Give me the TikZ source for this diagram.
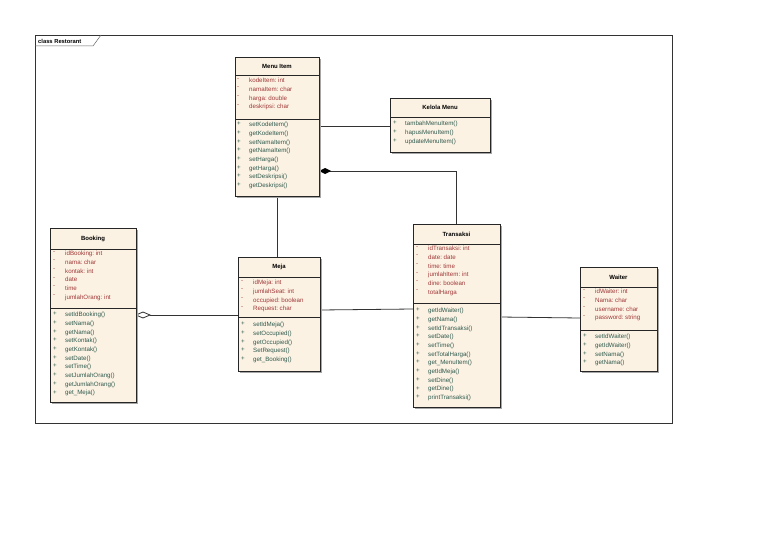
\documentclass[tikz,border=0pt]{standalone}
\usepackage{fontspec}
\setmainfont{Liberation Sans}
\usetikzlibrary{shadows}
\definecolor{boxfill}{HTML}{FCF2E3}
\definecolor{attrc}{HTML}{A03838}
\definecolor{methc}{HTML}{2E5A4E}
\tikzset{
 box/.style={draw=black!85,line width=0.9pt,fill=boxfill,drop shadow={shadow xshift=2pt,shadow yshift=-2pt,fill=black!35,opacity=1}},
 sep/.style={draw=black!85,line width=0.7pt},
 ttl/.style={font=\fontsize{6}{7}\selectfont\bfseries,inner sep=0pt},
 lst/.style={font=\fontsize{6.2}{8.7}\selectfont,align=left,anchor=north west,inner sep=0pt},
 conn/.style={draw=black!80,line width=0.8pt},
}
\newcommand\umlcls[8]{%
 \path[box] (#2,#3) rectangle (#4,#5);
 \coordinate (#1-nw) at (#2,#3); \coordinate (#1-se) at (#4,#5);
 \draw[sep] (#2,#6) -- (#4,#6); \draw[sep] (#2,#7) -- (#4,#7);
 \node[ttl] (#1-t) at ({(#2+#4)/2},{(#3+#6)/2}) {#8};}
\begin{document}
\begin{tikzpicture}[x=1pt,y=-1pt]
\useasboundingbox (0,0) rectangle (768,543);
\fill[white] (0,0) rectangle (768,543);
% frame
\draw[black!80,line width=0.8pt] (35,35) rectangle (672,423);
\draw[black!60,line width=0.5pt] (35,46) -- (93,46) -- (101,35);
\node[font=\fontsize{5.8}{7}\selectfont\bfseries,anchor=west,inner sep=0pt] (frm) at (38,41) {class Restorant};
% connectors
\coordinate (c1) at (456,171);
\draw[conn] (319,126) -- (390,126);
\draw[conn] (456,224) -- (c1) -- (319,171);
\fill[black] (319,171) -- (325,168) -- (331,171) -- (325,174) -- cycle;
\draw[conn] (277,196) -- (277,257);
\draw[conn] (150,315) -- (238,315);
\draw[conn,fill=white] (136,315) -- (143,312) -- (150,315) -- (143,318) -- cycle;
\draw[conn] (320,310) -- (413,309);
\draw[conn] (500,317) -- (580,318);
% Menu Item
\umlcls{mi}{235}{57}{319}{196}{75}{119}{Menu Item}
\node[lst,text=attrc] (mia) at (237,78) {-\\-\\-\\-};
\node[lst,text=attrc] (mia2) at (249,78) {kodeItem:\ int\\namaItem:\ char\\harga:\ double\\deskripsi:\ char};
\node[lst,text=methc] (mim) at (237,122) {+\\+\\+\\+\\+\\+\\+\\+};
\node[lst,text=methc] (mim2) at (249,122) {setKodeItem()\\getKodeItem()\\setNamaItem()\\getNamaItem()\\setHarga()\\getHarga()\\setDeskripsi()\\getDeskripsi()};
% Kelola Menu
\umlcls{km}{390}{98}{490}{152}{117}{117}{Kelola Menu}
\node[lst,text=methc] (kmm) at (393,121) {+\\+\\+};
\node[lst,text=methc] (kmm2) at (405,121) {tambahMenuItem()\\hapusMenuItem()\\updateMenuItem()};
% Booking
\umlcls{bk}{50}{228}{136}{402}{249}{308}{Booking}
\node[lst,text=attrc] (bka) at (53,251) {-\\-\\-\\-\\-\\-};
\node[lst,text=attrc] (bka2) at (65,251) {idBooking:\ int\\nama:\ char\\kontak:\ int\\date\\time\\jumlahOrang:\ int};
\node[lst,text=methc] (bkm) at (53,312) {+\\+\\+\\+\\+\\+\\+\\+\\+\\+};
\node[lst,text=methc] (bkm2) at (65,312) {setIdBooking()\\setNama()\\getNama()\\setKontak()\\getKontak()\\setDate()\\setTime()\\setJumlahOrang()\\getJumlahOrang()\\get\_Meja()};
% Meja
\umlcls{mj}{238}{257}{320}{371}{277}{317}{Meja}
\node[lst,text=attrc] (mja) at (241,280) {-\\-\\-\\-};
\node[lst,text=attrc] (mja2) at (253,280) {idMeja:\ int\\jumlahSeat:\ int\\occupied:\ boolean\\Request:\ char};
\node[lst,text=methc] (mjm) at (241,322) {+\\+\\+\\+\\+};
\node[lst,text=methc] (mjm2) at (253,322) {setIdMeja()\\setOccupied()\\getOccupied()\\SetRequest()\\get\_Booking()};
% Transaksi
\umlcls{tr}{413}{224}{500}{407}{244}{303}{Transaksi}
\node[lst,text=attrc] (tra) at (416,246) {-\\-\\-\\-\\-\\-};
\node[lst,text=attrc] (tra2) at (428,246) {idTransaksi:\ int\\date:\ date\\time:\ time\\jumlahItem:\ int\\dine:\ boolean\\totalHarga};
\node[lst,text=methc] (trm) at (416,308) {+\\+\\+\\+\\+\\+\\+\\+\\+\\+\\+};
\node[lst,text=methc] (trm2) at (428,308) {getIdWaiter()\\getNama()\\setIdTransaksi()\\setDate()\\setTime()\\setTotalHarga()\\get\_MenuItem()\\getIdMeja()\\setDine()\\getDine()\\printTransaksi()};
% Waiter
\umlcls{wt}{580}{267}{657}{371}{287}{330}{Waiter}
\node[lst,text=attrc] (wta) at (583,289) {-\\-\\-\\-};
\node[lst,text=attrc] (wta2) at (595,289) {idWaiter:\ int\\Nama:\ char\\username:\ char\\password:\ string};
\node[lst,text=methc] (wtm) at (583,334) {+\\+\\+\\+};
\node[lst,text=methc] (wtm2) at (595,334) {setIdWaiter()\\getIdWaiter()\\setNama()\\getNama()};
\end{tikzpicture}
\end{document}
